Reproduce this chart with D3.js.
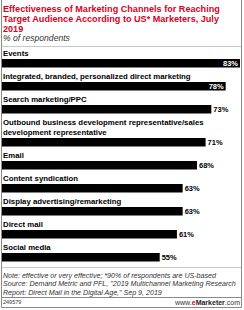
<!DOCTYPE html>
<html><head><meta charset="utf-8">
<script src="https://cdn.jsdelivr.net/npm/d3@7"></script>
<style>body{margin:0;background:#fff}svg{display:block}</style>
</head><body>
<script>
const categories = [
  ["Events"],
  ["Integrated, branded, personalized direct marketing"],
  ["Search marketing/PPC"],
  ["Outbound business development representative/sales", "development representative"],
  ["Email"],
  ["Content syndication"],
  ["Display advertising/remarketing"],
  ["Direct mail"],
  ["Social media"]
];
const values = [83, 78, 73, 71, 68, 63, 63, 61, 55];
const titleLines = ["Effectiveness of Marketing Channels for Reaching", "Target Audience According to US* Marketers, July", "2019"];
const subtitle = "% of respondents";
const noteLines = ["Note: effective or very effective; *90% of respondents are US-based", "Source: Demand Metric and PFL, \"2019 Multichannel Marketing Research", "Report: Direct Mail in the Digital Age,\" Sep 9, 2019"];
const chartId = "249579";

const W = 244, H = 310;
const svg = d3.select("body").append("svg").attr("width", W).attr("height", H);
const font = "'Liberation Sans', Arial, sans-serif";

// frame
svg.append("line").attr("x1",1.5).attr("x2",1.5).attr("y1",0).attr("y2",307.5).attr("stroke","#8a8a8a");
svg.append("line").attr("x1",241.5).attr("x2",241.5).attr("y1",0).attr("y2",307.5).attr("stroke","#8a8a8a");
svg.append("line").attr("x1",1.5).attr("x2",241.5).attr("y1",307.5).attr("y2",307.5).attr("stroke","#8a8a8a");

// title
svg.append("g").selectAll("text").data(titleLines).join("text")
  .attr("x", 3).attr("y", (d,i)=> 12 + i*9.8)
  .attr("font-family", font).attr("font-weight","bold").attr("font-size", 9.1)
  .attr("fill", "#d8001c").text(d=>d);
svg.append("text").attr("x",3).attr("y",41).attr("font-family",font).attr("font-style","italic")
  .attr("font-size",8.6).attr("fill","#333").text(subtitle);

svg.append("line").attr("x1",2).attr("x2",241).attr("y1",46.5).attr("y2",46.5).attr("stroke","#c8c8c8");

const x = d3.scaleLinear().domain([0, 83]).range([2, 240]);

// layout of blocks
let y0 = 47;
const blocks = categories.map((lines, i) => {
  const b = {lines, v: values[i], top: y0};
  b.labelY = y0 + 9;
  b.barY = y0 + 12 + (lines.length-1)*10;
  y0 = y0 + 23 + (lines.length-1)*10;
  return b;
});

const g = svg.append("g");
blocks.forEach(b => {
  g.append("g").selectAll("text").data(b.lines).join("text")
    .attr("x", 3).attr("y", (d,i)=> b.labelY + i*10)
    .attr("font-family", font).attr("font-weight","bold").attr("font-size", 7.8)
    .attr("fill","#000").text(d=>d);
  g.append("rect").attr("x", x(0)).attr("y", b.barY).attr("width", x(b.v)-x(0)).attr("height", 8.5).attr("fill","#000");
  const inside = x(b.v) + 20 > 241;
  g.append("text").attr("x", inside ? x(b.v)-2 : x(b.v)+2).attr("y", b.barY + 7)
    .attr("text-anchor", inside ? "end" : "start")
    .attr("font-family", font).attr("font-weight","bold").attr("font-size", 7.5)
    .attr("fill", inside ? "#fff" : "#000").text(b.v + "%");
});

svg.append("line").attr("x1",2).attr("x2",241).attr("y1",267.5).attr("y2",267.5).attr("stroke","#c8c8c8");
svg.append("g").selectAll("text").data(noteLines).join("text")
  .attr("x",3).attr("y",(d,i)=> 277.5 + i*8.5)
  .attr("font-family",font).attr("font-style","italic").attr("font-size",7.1).attr("fill","#333").text(d=>d);
svg.append("line").attr("x1",2).attr("x2",241).attr("y1",297.5).attr("y2",297.5).attr("stroke","#8a8a8a");
svg.append("text").attr("x",3).attr("y",304).attr("font-family",font).attr("font-size",5.5).attr("fill","#333").text(chartId);
const ft = svg.append("text").attr("x",240).attr("y",305).attr("text-anchor","end").attr("font-family",font).attr("font-size",7).attr("fill","#333");
ft.append("tspan").text("www.");
ft.append("tspan").attr("fill","#d8001c").attr("font-weight","bold").text("e");
ft.append("tspan").attr("fill","#222").attr("font-weight","bold").text("Marketer");
ft.append("tspan").text(".com");
</script>
</body></html>
